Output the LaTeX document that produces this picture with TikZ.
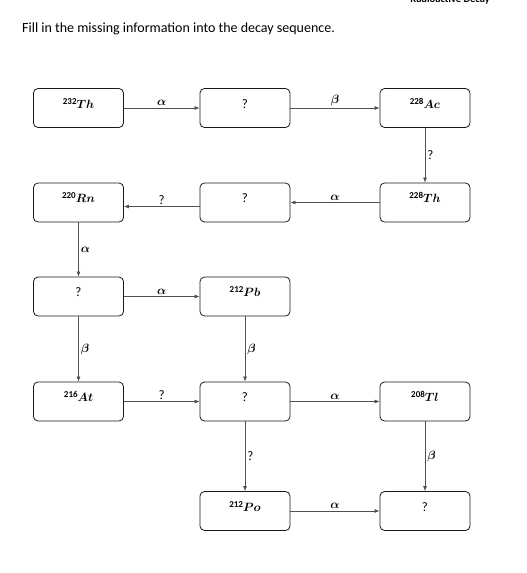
\documentclass[tikz,border=0pt]{standalone}
\usepackage{fontspec}
\setmainfont{Carlito}
\usepackage{tikz}
\usetikzlibrary{arrows.meta}
\definecolor{ColLine}{RGB}{80,80,80}
\definecolor{ColBox}{RGB}{25,25,25}
\newcommand{\Nuclide}[2]{\raisebox{3.6pt}{\fontsize{9}{10}\selectfont\bfseries#1}$#2$}
\tikzstyle{Decay}=[rectangle,rounded corners=4.5pt,draw=ColBox,line width=0.8pt,
minimum width=90pt,minimum height=39pt,inner sep=0pt,text height=8pt,text depth=8pt,
font=\fontsize{13}{15}\selectfont\boldmath]
\tikzstyle{Step}=[draw=ColLine,line width=0.7pt,-{Latex[length=5pt,width=4pt]}]
\tikzstyle{StepLabel}=[inner sep=2pt,font=\fontsize{13}{15}\selectfont\boldmath]

\begin{document}
\begin{tikzpicture}[x=1pt,y=-1pt]
        \useasboundingbox(0,0)rectangle(527,573);
        \node[anchor=base east,inner sep=0pt,font=\fontsize{10.5}{12}\selectfont\bfseries](head)at(490,2.5){Radioactive Decay};
        \node[anchor=base west,inner sep=0pt,font=\fontsize{14}{16}\selectfont](task)at(22,32){Fill in the missing information into the decay sequence.};
        % row 1
        \node[Decay](th232)at(78.5,108){\Nuclide{232}{Th}};
        \node[Decay](q1)at(245,108){?};
        \node[Decay](ac228)at(425,108){\Nuclide{228}{Ac}};
        % row 2
        \node[Decay](rn220)at(78.5,202.5){\Nuclide{220}{Rn}};
        \node[Decay](q2)at(245,202.5){?};
        \node[Decay](th228)at(425,202.5){\Nuclide{228}{Th}};
        % row 3
        \node[Decay](q3)at(78.5,296.5){?};
        \node[Decay](pb212)at(245,296.5){\Nuclide{212}{Pb}};
        % row 4
        \node[Decay](at216)at(78.5,401.5){\Nuclide{216}{At}};
        \node[Decay](q4)at(245,401.5){?};
        \node[Decay](tl208)at(425,401.5){\Nuclide{208}{Tl}};
        % row 5
        \node[Decay](po212)at(245,511){\Nuclide{212}{Po}};
        \node[Decay](q5)at(425,511){?};
        % decays
        \draw[Step](th232)--node[StepLabel,above]{$\alpha$}(q1);
        \draw[Step](q1)--node[StepLabel,above]{$\beta$}(ac228);
        \draw[Step](ac228)--node[StepLabel,right]{?}(th228);
        \draw[Step](th228)--node[StepLabel,above]{$\alpha$}(q2);
        \draw[Step]([yshift=-4pt]q2.west)--node[StepLabel,above]{?}([yshift=-4pt]rn220.east);
        \draw[Step](rn220)--node[StepLabel,right]{$\alpha$}(q3);
        \draw[Step](q3)--node[StepLabel,above]{$\alpha$}(pb212);
        \draw[Step](q3)--node[StepLabel,right]{$\beta$}(at216);
        \draw[Step](pb212)--node[StepLabel,right]{$\beta$}(q4);
        \draw[Step](at216)--node[StepLabel,above]{?}(q4);
        \draw[Step](q4)--node[StepLabel,above]{$\alpha$}(tl208);
        \draw[Step](q4)--node[StepLabel,right]{?}(po212);
        \draw[Step](tl208)--node[StepLabel,right]{$\beta$}(q5);
        \draw[Step](po212)--node[StepLabel,above]{$\alpha$}(q5);
    \end{tikzpicture}
\end{document}
